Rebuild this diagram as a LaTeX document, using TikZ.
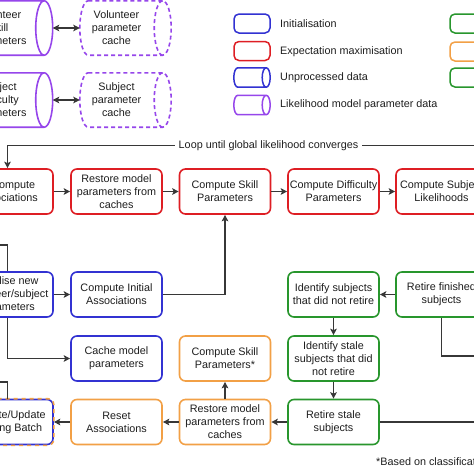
\documentclass[tikz,border=0pt]{standalone}
\usepackage{fontspec}
\setmainfont{Liberation Sans}
\usetikzlibrary{arrows.meta,calc}
\definecolor{blueC}{RGB}{50,50,210}
\definecolor{redC}{RGB}{222,30,36}
\definecolor{purpleC}{RGB}{150,70,235}
\definecolor{greenC}{RGB}{40,150,45}
\definecolor{orangeC}{RGB}{242,160,70}
\definecolor{lineC}{RGB}{55,55,55}
\definecolor{textC}{RGB}{30,30,30}
% cylinder outline around a node: #1 node, #2 cap radius, #3 style
\newcommand{\cylout}[3]{%
  \draw[#3] let \p1=(#1.north west), \p2=(#1.south east), \n1={(\y1-\y2)/2} in
    (\x1+#2,\y1) -- (\x2-#2,\y1)
    arc[start angle=90,end angle=-90,x radius=#2,y radius=\n1]
    -- (\x1+#2,\y2)
    arc[start angle=270,end angle=90,x radius=#2,y radius=\n1] -- cycle
    (\x2-#2,\y1) arc[start angle=90,end angle=270,x radius=#2,y radius=\n1];}
\begin{document}
\begin{tikzpicture}[x=1pt,y=-1pt,
  font=\fontsize{10.8}{13}\selectfont,
  every node/.style={text=textC},
  box/.style={draw, rounded corners=6pt, line width=1.6pt, minimum width=91pt,
    minimum height=45pt, inner xsep=0.5pt, inner ysep=1pt, align=center},
  ibox/.style={box, draw=blueC},
  ebox/.style={box, draw=redC},
  obox/.style={box, draw=orangeC},
  gbox/.style={box, draw=greenC},
  lgbox/.style={draw, rounded corners=5pt, line width=1.5pt, minimum width=36pt, minimum height=19pt},
  cylnode/.style={draw=none, inner sep=0pt, align=center},
  lgtext/.style={anchor=west, inner sep=0pt},
  conn/.style={draw=lineC, line width=1.2pt},
  arr/.style={conn, -{Stealth[length=6.5pt,width=6.5pt,inset=1.5pt]}},
  darr/.style={conn, {Stealth[length=6.5pt,width=6.5pt,inset=1.5pt]}-{Stealth[length=6.5pt,width=6.5pt,inset=1.5pt]}}]
\useasboundingbox (0,0) rectangle (474,474);
\clip (0,0) rectangle (474,474);
\fill[white] (0,0) rectangle (474,474);

% ---- parameter cylinders ----
\node[cylnode, minimum width=108pt, minimum height=54pt] (vsp) at (-1.5,28) {Volunteer\\Skill\\Parameters};
\cylout{vsp}{8.5pt}{purpleC, line width=1.6pt}
\node[cylnode, minimum width=108pt, minimum height=54pt] (sdp) at (-1.5,100) {Subject\\Difficulty\\Parameters};
\cylout{sdp}{8.5pt}{purpleC, line width=1.6pt}
\node[cylnode, minimum width=91pt, minimum height=54pt,
  label={[align=center,xshift=-9pt]center:Volunteer\\parameter\\cache}] (vpc) at (125.5,28) {};
\cylout{vpc}{8.5pt}{purpleC, line width=1.6pt, dash pattern=on 4pt off 3pt}
\node[cylnode, minimum width=91pt, minimum height=54pt,
  label={[align=center,xshift=-9pt]center:Subject\\parameter\\cache}] (spc) at (125.5,100) {};
\cylout{spc}{8.5pt}{purpleC, line width=1.6pt, dash pattern=on 4pt off 3pt}
\draw[darr] (vsp.east) -- (vpc.west);
\draw[darr] (sdp.east) -- (spc.west);

% ---- legend ----
\node[lgbox, draw=blueC] (lg1) at (252,23.5) {};
\node[lgtext] (lt1) at (280,24) {Initialisation};
\node[lgbox, draw=redC] (lg2) at (252,51) {};
\node[lgtext] (lt2) at (280,52) {Expectation maximisation};
\node[cylnode, minimum width=36pt, minimum height=19pt] (lg3) at (252,77.5) {};
\cylout{lg3}{4pt}{blueC, line width=1.5pt}
\node[lgtext] (lt3) at (280,78) {Unprocessed data};
\node[cylnode, minimum width=36pt, minimum height=19pt] (lg4) at (252,105) {};
\cylout{lg4}{4pt}{purpleC, line width=1.5pt}
\node[lgtext] (lt4) at (280,105) {Likelihood model parameter data};
\node[lgbox, draw=greenC] (lg5) at (468,23.5) {};
\node[lgbox, draw=orangeC] (lg6) at (468,51.5) {};
\node[lgbox, draw=greenC] (lg7) at (468,77.5) {};

% ---- row 1: expectation maximisation ----
\node[ebox] (B1) at (7.5,191.5) {Recompute\\Associations};
\node[ebox] (B2) at (116.5,191.5) {Restore model\\parameters from\\caches};
\node[ebox] (B3) at (225,191.5) {Compute Skill\\Parameters};
\node[ebox] (B4) at (333.5,191.5) {Compute Difficulty\\Parameters};
\node[ebox] (B5) at (441.5,191.5) {Compute Subject\\Likelihoods};
\draw[arr] (B1) -- (B2);
\draw[arr] (B2) -- (B3);
\draw[arr] (B3) -- (B4);
\draw[arr] (B4) -- (B5);

% loop
\coordinate (loopR) at (480,145.5);
\draw[arr] (loopR) -| (B1.north);
\node[fill=white, inner xsep=4pt, inner ysep=1pt] (loop) at (268.5,145.5) {Loop until global likelihood converges};

% ---- row 2 ----
\node[ibox] (Init) at (7.5,294.5) {Initialise new\\volunteer/subject\\parameters};
\node[ibox] (CIA) at (116.5,294.5) {Compute Initial\\Associations};
\node[gbox] (INR) at (333.5,294.5) {Identify subjects\\that did not retire};
\node[gbox] (RF) at (441.5,294.5) {Retire finished\\subjects};
\coordinate (initL) at (-10,245);
\draw[conn] (initL) -| (Init.north);
\draw[arr] (Init) -- (CIA);
\draw[arr] (CIA.east) -| (B3.south);
\draw[arr] (RF) -- (INR);
\coordinate (rfR) at (480,356);
\draw[conn] (RF.south) |- (rfR);

% ---- row 3 ----
\node[ibox] (Cache) at (116.5,358.5) {Cache model\\parameters};
\node[obox] (CSP) at (225,358.5) {Compute Skill\\Parameters*};
\node[gbox] (IS) at (333.5,358.5) {Identify stale\\subjects that did\\not retire};
\draw[arr] (Init.south) |- (Cache.west);
\draw[arr] (INR) -- (IS);

% ---- row 4 ----
\node[ibox] (Val) at (7.5,422) {Validate/Update\\Training Batch};
\draw[orangeC, line width=1.6pt, dash pattern=on 4pt off 4pt, rounded corners=6pt]
  (Val.north west) rectangle (Val.south east);
\node[obox] (Reset) at (116.5,422) {Reset\\Associations};
\node[obox] (RR) at (225,422) {Restore model\\parameters from\\caches};
\node[gbox] (RS) at (333.5,422) {Retire stale\\subjects};
\coordinate (valL) at (-10,382);
\draw[conn] (valL) -| (Val.north);
\draw[arr] (Reset) -- (Val);
\draw[arr] (RR) -- (Reset);
\draw[arr] (RR) -- (CSP);
\draw[arr] (IS) -- (RS);
\draw[arr] (RS) -- (RR);
\coordinate (rsR) at (480,422);
\draw[conn] (RS.east) -- (rsR);

% footnote
\node[anchor=west, inner sep=0pt] (fn) at (376,462) {*Based on classifications};
\end{tikzpicture}
\end{document}
